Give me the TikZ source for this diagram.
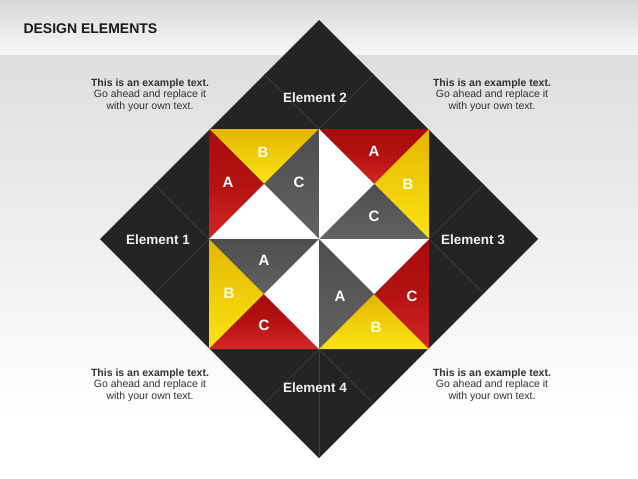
\documentclass[tikz,border=0pt]{standalone}
\usepackage{fontspec}
\setmainfont{Liberation Sans}

\definecolor{redDark}{RGB}{168,10,10}
\definecolor{redLight}{RGB}{212,38,38}
\definecolor{goldDark}{RGB}{228,182,0}
\definecolor{goldLight}{RGB}{250,228,20}
\definecolor{tileGray}{RGB}{78,78,78}
\definecolor{tileGrayLight}{RGB}{98,98,98}
\definecolor{facet}{RGB}{36,36,36}
\definecolor{facetLine}{RGB}{66,66,66}
\definecolor{noteText}{RGB}{50,50,50}

\tikzset{
  redtri/.style={top color=redDark, bottom color=redLight, middle color=redDark!70!redLight},
  goldtri/.style={top color=goldDark, bottom color=goldLight},
  graytri/.style={top color=tileGray, bottom color=tileGrayLight},
  whitetri/.style={fill=white},
  letter/.style={font=\bfseries\fontsize{15}{15}\selectfont, text=white},
  pale/.style={letter, text=white!85!yellow},
  elem/.style={font=\bfseries\fontsize{13.5}{14}\selectfont, text=white!94!black},
  note/.style={align=center, text=noteText, font=\fontsize{10.5}{11.6}\selectfont}
}

\begin{document}
\begin{tikzpicture}[x=1pt, y=-1pt]

\useasboundingbox (0,0) rectangle (638,479);

\shade[top color=black!15, bottom color=black!3] (0,0) rectangle (638,55);
\shade[top color=black!13, bottom color=white] (0,55) rectangle (638,420);
\fill[white] (0,420) rectangle (638,479);

\node[anchor=west, font=\bfseries\fontsize{14}{14}\selectfont, text=black!90] (title) at (20,29) {DESIGN ELEMENTS};

\coordinate (T) at (319,20);
\coordinate (L) at (100,239);
\coordinate (R) at (538,239);
\coordinate (B) at (319,458);

\coordinate (Q1) at (209,129);
\coordinate (Q2) at (429,129);
\coordinate (Q3) at (429,349);
\coordinate (Q4) at (209,349);
\coordinate (MN) at (319,129);
\coordinate (ME) at (429,239);
\coordinate (MS) at (319,349);
\coordinate (MW) at (209,239);
\coordinate (O) at (319,239);
\coordinate (Ca) at (264,184);
\coordinate (Cb) at (374,184);
\coordinate (Cc) at (264,294);
\coordinate (Cd) at (374,294);

\fill[facet] (T) -- (R) -- (B) -- (L) -- cycle;

\draw[facetLine, line width=0.5pt] (MN) -- (264,74);
\draw[facetLine, line width=0.5pt] (MN) -- (374,74);
\draw[facetLine, line width=0.5pt] (MW) -- (154,184);
\draw[facetLine, line width=0.5pt] (MW) -- (154,294);
\draw[facetLine, line width=0.5pt] (ME) -- (484,184);
\draw[facetLine, line width=0.5pt] (ME) -- (484,294);
\draw[facetLine, line width=0.5pt] (MS) -- (264,404);
\draw[facetLine, line width=0.5pt] (MS) -- (374,404);
\draw[facetLine, line width=0.5pt] (MS) -- (B);

\shade[goldtri] (Q1) -- (MN) -- (Ca) -- cycle;
\shade[redtri] (Q1) -- (MW) -- (Ca) -- cycle;
\shade[graytri] (MN) -- (O) -- (Ca) -- cycle;
\fill[whitetri] (MW) -- (O) -- (Ca) -- cycle;

\shade[redtri] (MN) -- (Q2) -- (Cb) -- cycle;
\shade[goldtri] (Q2) -- (ME) -- (Cb) -- cycle;
\shade[graytri] (O) -- (ME) -- (Cb) -- cycle;
\fill[whitetri] (MN) -- (O) -- (Cb) -- cycle;

\shade[graytri] (MW) -- (O) -- (Cc) -- cycle;
\shade[goldtri] (MW) -- (Q4) -- (Cc) -- cycle;
\shade[redtri] (Q4) -- (MS) -- (Cc) -- cycle;
\fill[whitetri] (O) -- (MS) -- (Cc) -- cycle;

\shade[graytri] (O) -- (MS) -- (Cd) -- cycle;
\shade[goldtri] (MS) -- (Q3) -- (Cd) -- cycle;
\shade[redtri] (ME) -- (Q3) -- (Cd) -- cycle;
\fill[whitetri] (O) -- (ME) -- (Cd) -- cycle;

\node[pale] (bA) at (263,152) {B};
\node[letter] (aA) at (228,182) {A};
\node[letter] (cA) at (299,182) {C};

\node[letter] (aB) at (374,151) {A};
\node[pale] (bB) at (408,184) {B};
\node[letter] (cB) at (374,216) {C};

\node[letter] (aC) at (264,260) {A};
\node[pale] (bC) at (229,293) {B};
\node[letter] (cC) at (264,325) {C};

\node[letter] (aD) at (340,296) {A};
\node[pale] (bD) at (376,327) {B};
\node[letter] (cD) at (412,296) {C};

\node[elem] (el1) at (158,240) {Element 1};
\node[elem] (el2) at (315,98) {Element 2};
\node[elem] (el3) at (473,240) {Element 3};
\node[elem] (el4) at (315,388) {Element 4};

\node[note] (noteA) at (150,95) {\textbf{This is an example text.}\\Go ahead and replace it\\with your own text.};
\node[note] (noteB) at (492,95) {\textbf{This is an example text.}\\Go ahead and replace it\\with your own text.};
\node[note] (noteC) at (150,385) {\textbf{This is an example text.}\\Go ahead and replace it\\with your own text.};
\node[note] (noteD) at (492,385) {\textbf{This is an example text.}\\Go ahead and replace it\\with your own text.};

\end{tikzpicture}
\end{document}
